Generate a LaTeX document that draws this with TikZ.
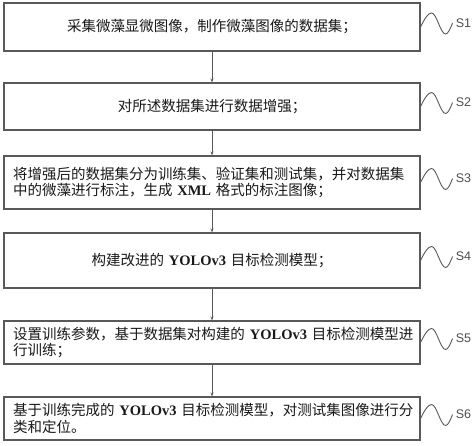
\documentclass[tikz,border=0pt]{standalone}
\usepackage{fontspec}
\setmainfont{Liberation Serif}
\setsansfont{Liberation Sans}
\newfontfamily\cjk{Noto Sans CJK SC}
\newcommand{\lat}[1]{{\rmfamily\bfseries #1}}
\usetikzlibrary{arrows.meta}

\begin{document}
\begin{tikzpicture}[x=1pt, y=-1pt, >={Stealth[length=4pt,width=3pt]}, draw=black!65]
    \tikzstyle{stepbox}=[draw, line width=1.1pt, minimum width=416pt, text width=398pt, inner sep=0pt, font=\cjk\fontsize{14.5}{16.5}\selectfont, text=black!90]
    \tikzstyle{tag}=[anchor=west, inner xsep=3pt, inner ysep=0pt, font=\sffamily\fontsize{12.5}{14}\selectfont, text=black!70]
    \useasboundingbox (0,0) rectangle (474,445);

    % steps
    \node [stepbox, minimum height=48pt, align=center] (s1) at (212,27)
    {采集微藻显微图像，制作微藻图像的数据集；};
    \node [stepbox, minimum height=47pt, align=center] (s2) at (212,106.5)
    {对所述数据集进行数据增强；};
    \node [stepbox, minimum height=53pt, align=left] (s3) at (212,182.5)
    {将增强后的数据集分为训练集、验证集和测试集，并对数据集\\中的微藻进行标注，生成~\lat{XML}~格式的标注图像；};
    \node [stepbox, minimum height=55pt, align=center] (s4) at (212,260.5)
    {构建改进的~\lat{YOLOv3}~目标检测模型；};
    \node [stepbox, minimum height=43pt, align=left] (s5) at (212,342.5)
    {设置训练参数，基于数据集对构建的~\lat{YOLOv3}~目标检测模型进\\行训练；};
    \node [stepbox, minimum height=43pt, align=left] (s6) at (212,418.5)
    {基于训练完成的~\lat{YOLOv3}~目标检测模型，对测试集图像进行分\\类和定位。};

    % arrows between steps
    \foreach \a/\b in {s1/s2, s2/s3, s3/s4, s4/s5, s5/s6}
    \draw [->, line width=0.8pt] (\a) -- (\b);

    % step labels with wave
    \foreach \i in {1,...,6} {
    \node [tag] (t\i) at ([shift={(32,-4)}]s\i.east) {S\i};
    \draw [line width=0.9pt] (s\i.east) sin ++(11,-14) cos ++(7,10.5) sin ++(7,10.5) cos (t\i.west);
    }

\end{tikzpicture}
\end{document}
